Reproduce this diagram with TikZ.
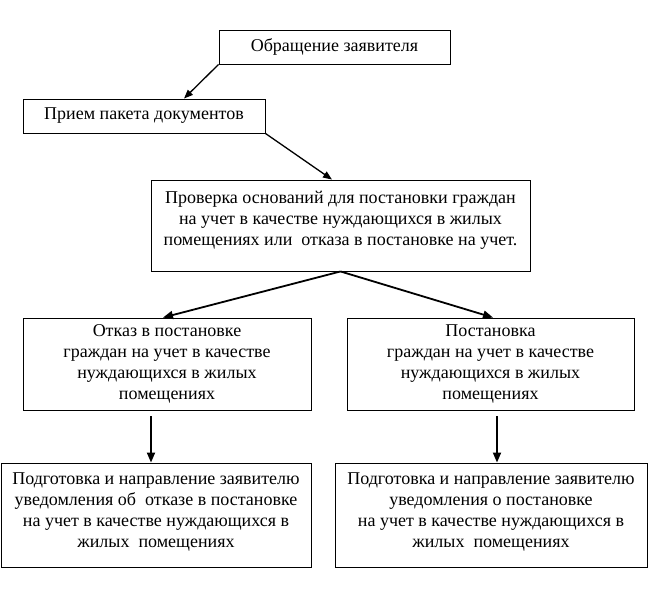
\documentclass[tikz,border=0pt]{standalone}
\usepackage{fontspec}
\setmainfont{Liberation Serif}
\usetikzlibrary{arrows.meta}

\begin{document}
\begin{tikzpicture}[x=1pt, y=-1pt,
  box/.style={draw, line width=0.9pt, align=center, inner sep=0pt,
    font=\fontsize{18}{21}\selectfont},
  arr/.style={line width=1.3pt, -{Triangle[length=9pt,width=7pt]}},
  barr/.style={line width=1.8pt, -{Triangle[length=10pt,width=8pt]}}]
\useasboundingbox (0,0) rectangle (662,597);
\node [box, minimum width=231pt, minimum height=34pt] (obr) at (334.5,47) {Обращение заявителя};
\node [box, minimum width=242pt, minimum height=34pt] (priem) at (144,116) {Прием пакета документов};
\node [box, minimum width=379pt, minimum height=91pt] (prov) at (340.5,225.5)
  {Проверка оснований для постановки граждан\\на учет в качестве нуждающихся в жилых\\помещениях или~ отказа в постановке на учет.\\[-7pt]};
\node [box, minimum width=288pt, minimum height=92pt] (otkaz) at (167,364)
  {Отказ в постановке\\граждан на учет в качестве\\нуждающихся в жилых\\помещениях};
\node [box, minimum width=287pt, minimum height=92pt] (post) at (490.5,364)
  {Постановка\\граждан на учет в качестве\\нуждающихся в жилых\\помещениях};
\node [box, minimum width=310pt, minimum height=104pt] (podgA) at (156,515)
  {Подготовка и направление заявителю\\уведомления об~ отказе в постановке\\на учет в качестве нуждающихся в\\жилых~ помещениях\\[-11pt]};
\node [box, minimum width=312pt, minimum height=104pt] (podgB) at (491,515)
  {Подготовка и направление заявителю\\уведомления о постановке\\на учет в качестве нуждающихся в\\жилых~ помещениях\\[-11pt]};
\coordinate (a1) at ([xshift=-16pt,yshift=-6pt]otkaz.south);
\coordinate (a2) at ([xshift=6.5pt,yshift=-6pt]post.south);
\draw [arr] (obr.south west) -- ([xshift=40pt]priem.north);
\draw [arr] (priem.south east) -- ([xshift=-8.5pt]prov.north);
\draw [barr] (prov.south) -- ([xshift=-4pt]otkaz.north);
\draw [barr] (prov.south) -- ([xshift=2.5pt]post.north);
\draw [barr] (a1) -- (a1 |- podgA.north);
\draw [barr] (a2) -- (a2 |- podgB.north);
\end{tikzpicture}
\end{document}
